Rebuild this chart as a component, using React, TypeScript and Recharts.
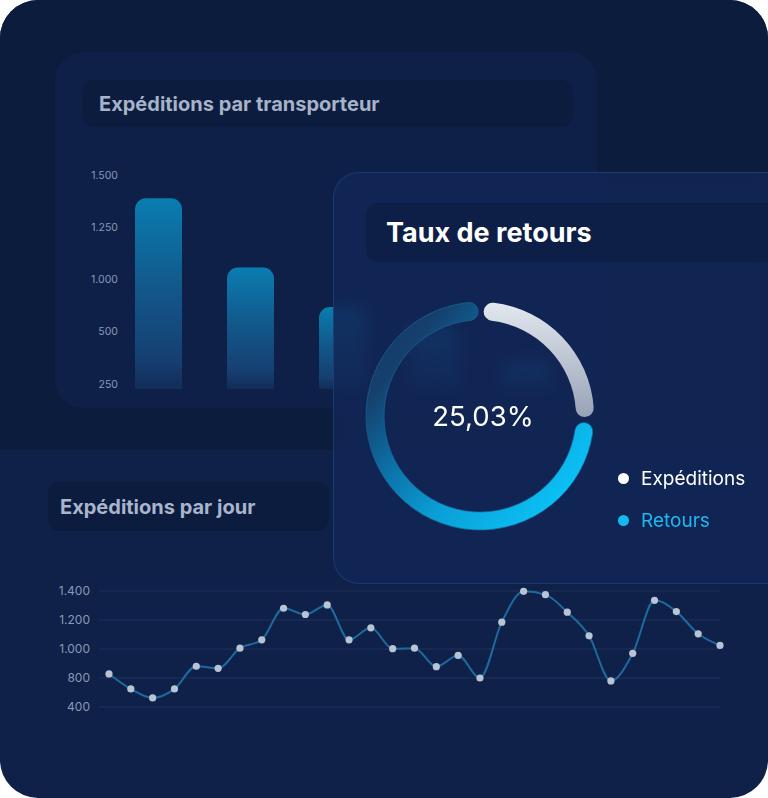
import { BarChart, Bar, LineChart, Line, PieChart, Pie, Cell, XAxis, YAxis, CartesianGrid } from 'recharts'

const CARRIERS = ['T1', 'T2', 'T3', 'T4', 'T5']
const CARRIER_SHIPMENTS = [1389, 1057, 735, 551, 357]
const BAR_TICKS = [250, 500, 1000, 1250, 1500]

const DAYS = Array.from({ length: 29 }, (_, i) => `J${i + 1}`)
const DAILY_SHIPMENTS = [
  828, 650, 525, 650, 881, 867, 1006, 1063, 1281, 1238, 1304, 1063, 1146, 1002, 1006, 878, 956, 800, 1185, 1398,
  1375, 1254, 1091, 760, 970, 1336, 1258, 1105, 1025,
]
const LINE_TICKS = [400, 800, 1000, 1200, 1400]

const RATE_LABELS = ['Expéditions', 'Retours']
const RATE_VALUES = [25.03, 74.97]
const RATE_TEXT = '25,03%'

// the axes in the picture are evenly spaced but the labels are not, so map values piecewise onto tick index
function toAxis(v: number, ticks: number[]) {
  const n = ticks.length
  let i = 0
  if (v >= ticks[n - 1]) i = n - 2
  else while (i < n - 2 && v > ticks[i + 1]) i++
  return i + (v - ticks[i]) / (ticks[i + 1] - ticks[i])
}

const fmt = (n: number) => n.toLocaleString('de-DE')

const BAR_BASE = 0.1
const barData = CARRIERS.map((name, i) => ({ name, value: CARRIER_SHIPMENTS[i] }))
const lineData = DAYS.map((day, i) => ({ day, value: DAILY_SHIPMENTS[i] }))
const rateData = RATE_LABELS.map((name, i) => ({ name, value: RATE_VALUES[i] }))
const RATE_COLORS = ['#ffffff', '#16b9ef']

const FONT = 'Inter, "Noto Sans", sans-serif'
const tickStyle = { fill: '#8a99b4', fontSize: 10.5, fontFamily: FONT }

const titleBox = (left: number, top: number, width: number, height: number, bg: string) => ({
  position: 'absolute' as const,
  left,
  top,
  width,
  height,
  borderRadius: 12,
  background: bg,
  display: 'flex',
  alignItems: 'center',
  boxSizing: 'border-box' as const,
})

export default function App() {
  return (
    <div style={{ width: 768, height: 798, background: '#fff', position: 'relative', fontFamily: FONT }}>
      <style>{'body{margin:0}'}</style>
      <div
        style={{
          position: 'absolute',
          inset: 0,
          borderRadius: 38,
          overflow: 'hidden',
          background: '#0f2149',
        }}
      >
        <div style={{ position: 'absolute', left: 0, top: 0, width: 768, height: 450, background: '#0c1c3d' }} />

        {/* carrier bar card */}
        <div
          style={{ position: 'absolute', left: 55, top: 52, width: 542, height: 356, borderRadius: 28, background: '#0e2047' }}
        />
        <div style={{ ...titleBox(82, 80, 491, 47, '#0c1c3e'), paddingLeft: 17 }}>
          <span style={{ color: '#a7b3c8', fontSize: 20, fontWeight: 700 }}>Expéditions par transporteur</span>
        </div>
        <div style={{ position: 'absolute', left: 60, top: 160 }}>
          <BarChart width={512} height={235} data={barData} margin={{ top: 15, right: 0, bottom: 6, left: 0 }}>
            <defs>
              <linearGradient id="barFill" x1="0" y1="0" x2="0" y2="1">
                <stop offset="0%" stopColor="#0a7db0" />
                <stop offset="45%" stopColor="#12598c" />
                <stop offset="85%" stopColor="#163f71" />
                <stop offset="100%" stopColor="#163a6a" stopOpacity={0.5} />
              </linearGradient>
            </defs>
            <XAxis dataKey="name" hide />
            <YAxis
              width={52}
              domain={[0, BAR_TICKS.length - 1 + BAR_BASE]}
              ticks={BAR_TICKS.map((_, i) => i + BAR_BASE)}
              tickFormatter={(v: number) => fmt(BAR_TICKS[Math.round(v - BAR_BASE)])}
              axisLine={false}
              tickLine={false}
              tickSize={0}
              tickMargin={-6}
              tick={tickStyle}
            />
            <Bar
              dataKey={(d: { value: number }) => toAxis(d.value, BAR_TICKS) + BAR_BASE}
              barSize={47}
              radius={[11, 11, 0, 0]}
              fill="url(#barFill)"
              isAnimationActive={false}
            />
          </BarChart>
        </div>

        {/* daily line chart */}
        <div style={{ ...titleBox(48, 482, 281, 49, '#0c1c3f'), paddingLeft: 12 }}>
          <span style={{ color: '#a9b5ca', fontSize: 20, fontWeight: 700 }}>Expéditions par jour</span>
        </div>
        <div style={{ position: 'absolute', left: 40, top: 575 }}>
          <LineChart width={684} height={142} data={lineData} margin={{ top: 16, right: 4, bottom: 10, left: 0 }}>
            <CartesianGrid vertical={false} stroke="#1e335f" strokeWidth={1} />
            <XAxis dataKey="day" hide padding={{ left: 10, right: 0 }} />
            <YAxis
              width={59}
              domain={[0, LINE_TICKS.length - 1]}
              ticks={LINE_TICKS.map((_, i) => i)}
              tickFormatter={(v: number) => fmt(LINE_TICKS[v])}
              axisLine={false}
              tickLine={false}
              tickSize={0}
              tickMargin={9}
              tick={{ ...tickStyle, fontSize: 12 }}
            />
            <Line
              type="monotone"
              dataKey={(d: { value: number }) => toAxis(d.value, LINE_TICKS)}
              stroke="#1d6b9e"
              strokeWidth={2}
              dot={{ r: 3.6, fill: '#b8c3d4', stroke: 'none', strokeWidth: 0 }}
              activeDot={false}
              isAnimationActive={false}
            />
          </LineChart>
        </div>

        {/* return rate card */}
        <div
          style={{
            position: 'absolute',
            left: 333,
            top: 172,
            width: 470,
            height: 412,
            borderRadius: 26,
            background: 'rgba(17, 39, 86, 0.86)',
            backdropFilter: 'blur(7px)',
            border: '1px solid rgba(38, 86, 146, 0.45)',
            boxSizing: 'border-box',
          }}
        />
        <div style={{ ...titleBox(366, 203, 420, 59, '#0e1f47'), paddingLeft: 20 }}>
          <span style={{ color: '#ffffff', fontSize: 27, fontWeight: 700 }}>Taux de retours</span>
        </div>
        <div style={{ position: 'absolute', left: 360, top: 295 }}>
          <PieChart width={240} height={242} margin={{ top: 0, right: 0, bottom: 0, left: 0 }}>
            <defs>
              <linearGradient id="whiteArc" x1="0" y1="0" x2="0" y2="1">
                <stop offset="0%" stopColor="#e3e8ef" />
                <stop offset="100%" stopColor="#97a2b6" />
              </linearGradient>
              <linearGradient id="cyanArc" x1="0.95" y1="0.75" x2="0.1" y2="0.05">
                <stop offset="0%" stopColor="#0bc0f4" />
                <stop offset="35%" stopColor="#0a9fd6" />
                <stop offset="62%" stopColor="#0c6ea3" />
                <stop offset="85%" stopColor="#153f6d" />
                <stop offset="100%" stopColor="#163b68" />
              </linearGradient>
            </defs>
            <Pie
              data={rateData}
              dataKey="value"
              nameKey="name"
              cx={120}
              cy={121}
              innerRadius={96}
              outerRadius={114}
              startAngle={88}
              endAngle={-272}
              paddingAngle={3}
              cornerRadius={9}
              isAnimationActive={false}
            >
              <Cell fill="url(#whiteArc)" stroke="none" />
              <Cell fill="url(#cyanArc)" stroke="#1d6499" strokeOpacity={0.7} strokeWidth={1} />
            </Pie>
          </PieChart>
        </div>
        <div
          style={{
            position: 'absolute',
            left: 400,
            top: 398,
            width: 166,
            textAlign: 'center',
            color: '#ffffff',
            fontSize: 27.5,
            lineHeight: '36px',
          }}
        >
          {RATE_TEXT}
        </div>
        <div style={{ position: 'absolute', left: 618, top: 466 }}>
          {rateData.map((d, i) => (
            <div key={d.name} style={{ display: 'flex', alignItems: 'center', height: 24, marginBottom: 18 }}>
              <span
                style={{ width: 11, height: 11, borderRadius: '50%', background: RATE_COLORS[i], marginRight: 12 }}
              />
              <span style={{ color: i === 0 ? '#ffffff' : '#1cb8ee', fontSize: 19 }}>{d.name}</span>
            </div>
          ))}
        </div>
      </div>
    </div>
  )
}
